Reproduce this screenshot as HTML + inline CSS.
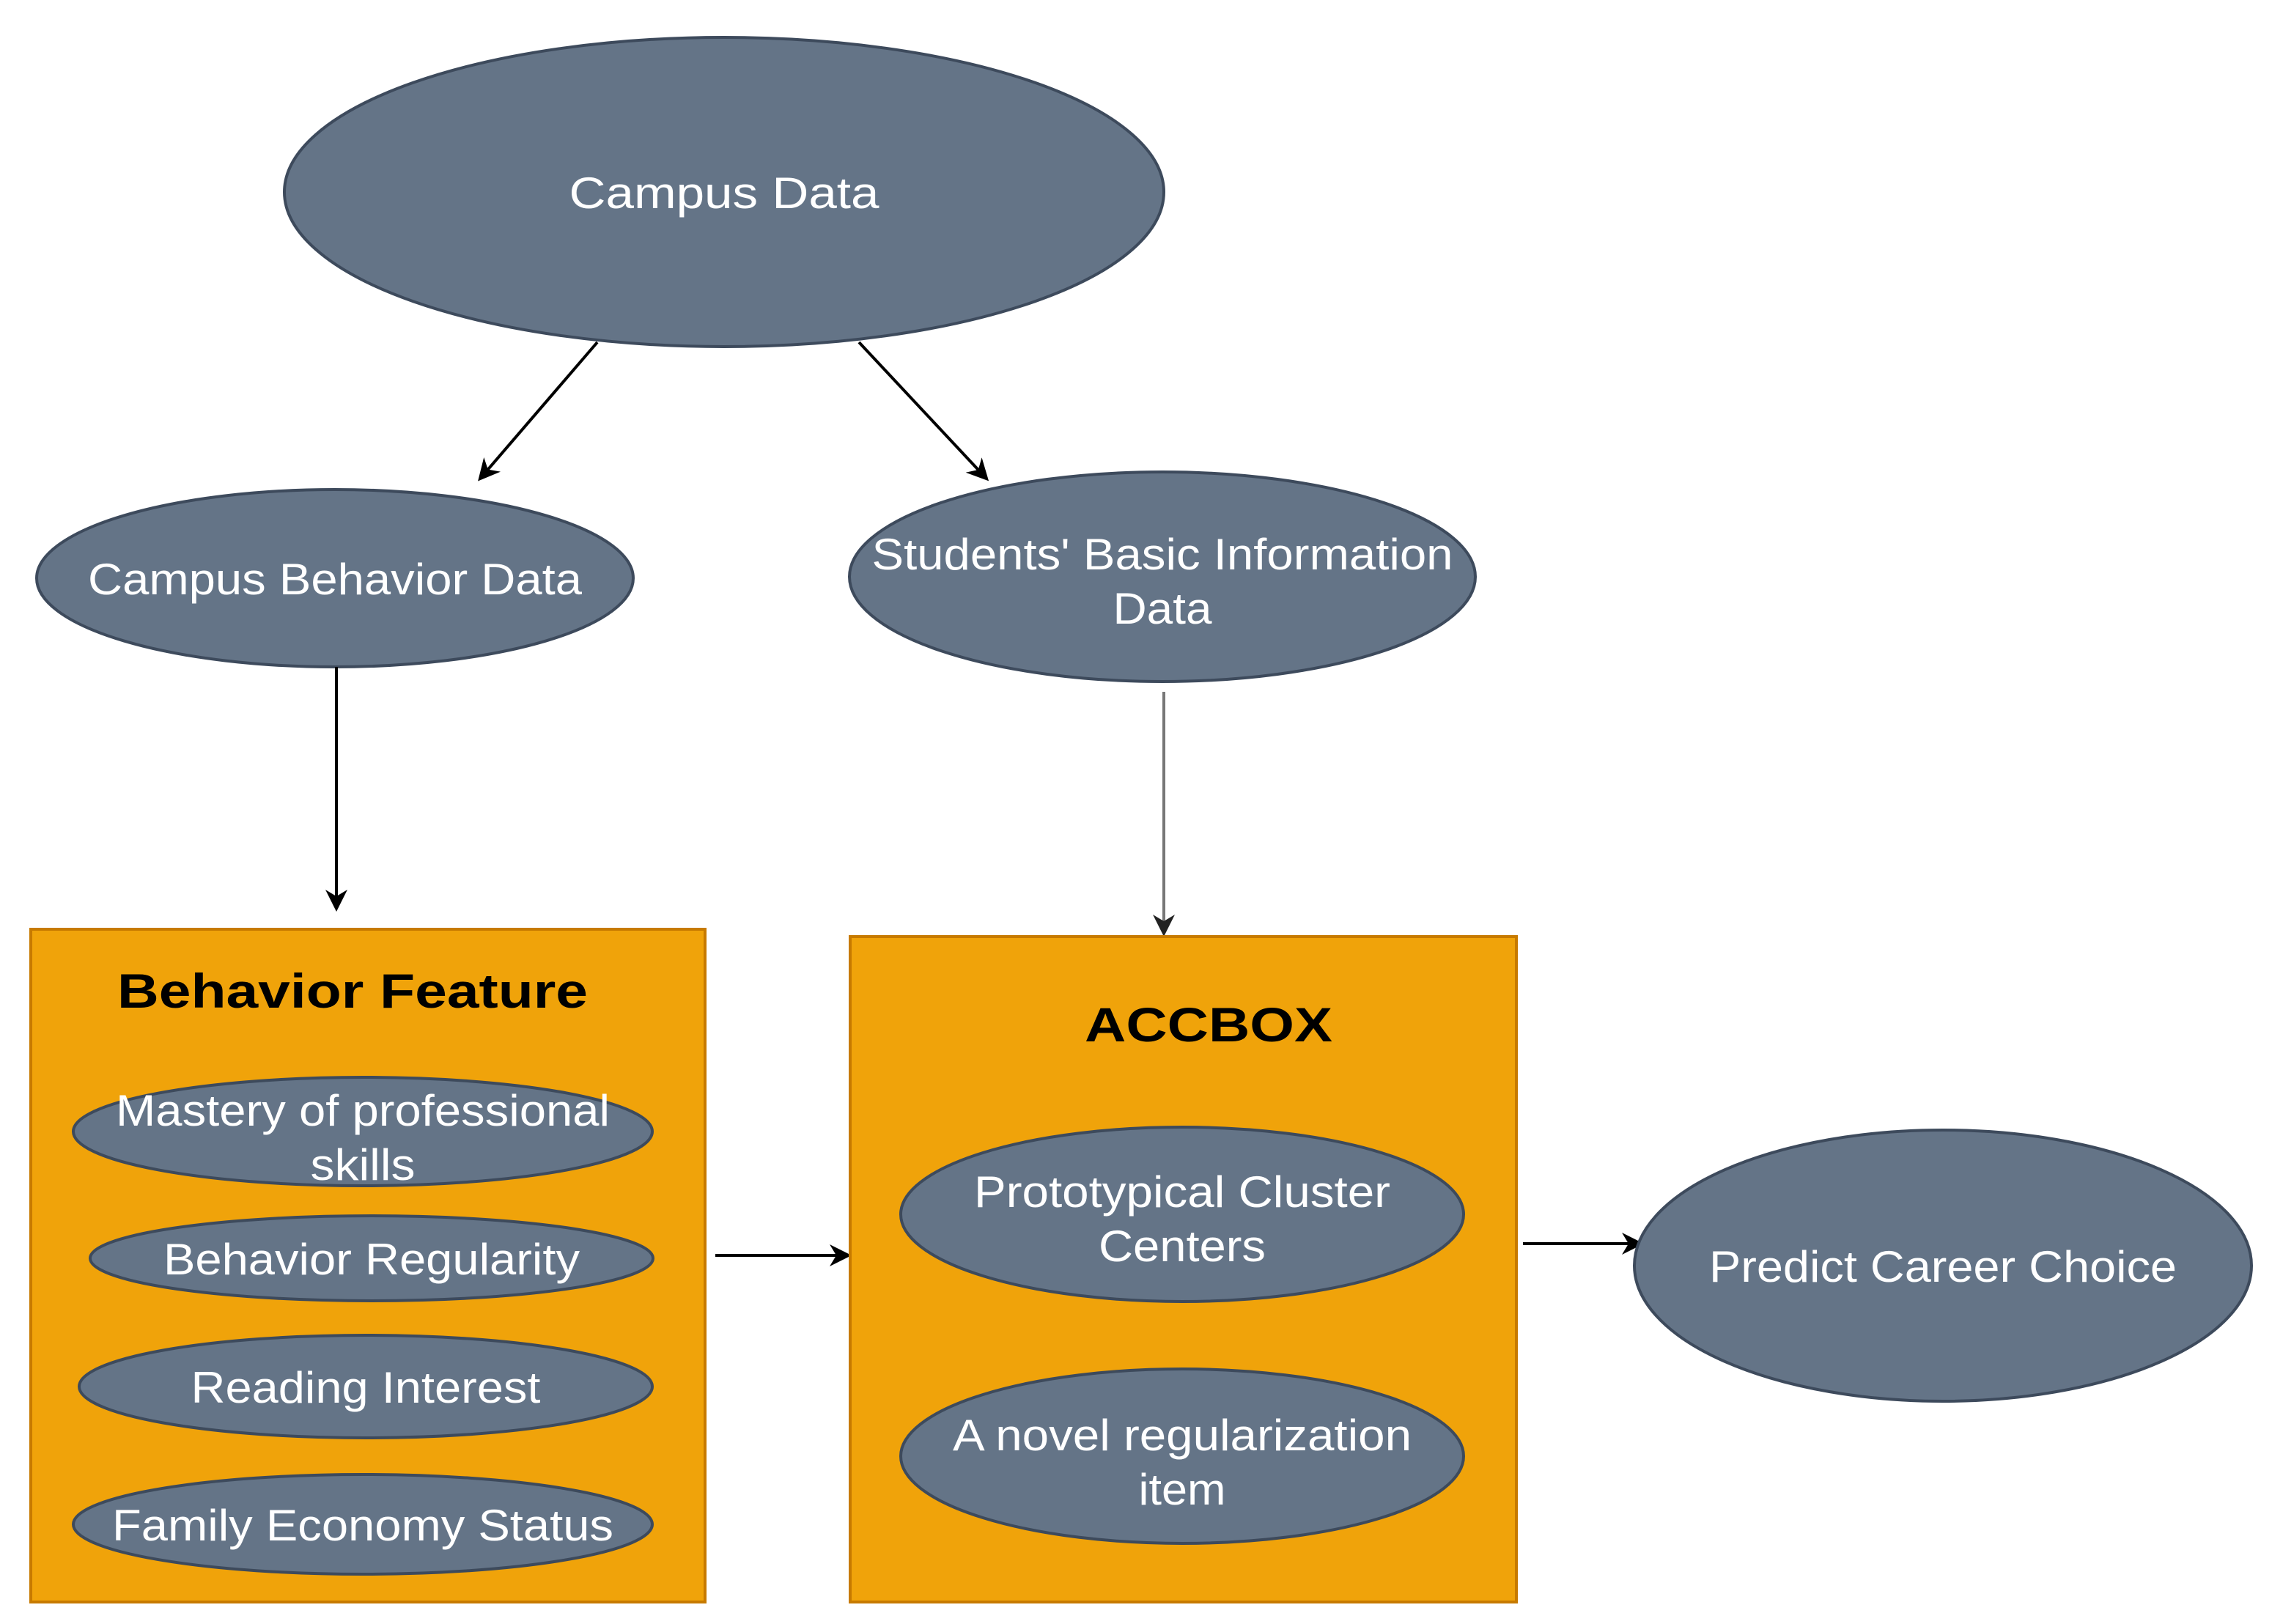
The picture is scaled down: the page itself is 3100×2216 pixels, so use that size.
<!DOCTYPE html>
<html><head><meta charset="utf-8"><style>html,body{margin:0;padding:0;background:#fff}svg{display:block}</style></head>
<body>
<svg width="3100" height="2216" viewBox="0 0 3100 2216" xmlns="http://www.w3.org/2000/svg" font-family="Liberation Sans, Arial, sans-serif">
<defs>
<marker id="ah" viewBox="0 0 10 10" refX="9" refY="5" markerWidth="8" markerHeight="8" markerUnits="userSpaceOnUse" orient="auto">
</marker>
<marker id="a" viewBox="0 0 10 10" refX="8" refY="5" markerWidth="30" markerHeight="30" markerUnits="userSpaceOnUse" orient="auto"><path d="M0,0 L10,5 L0,10 L3,5 z" fill="#000"/></marker>
<marker id="ag" viewBox="0 0 10 10" refX="8" refY="5" markerWidth="30" markerHeight="30" markerUnits="userSpaceOnUse" orient="auto"><path d="M0,0 L10,5 L0,10 L3,5 z" fill="#222"/></marker>
</defs>
<g fill="#647487" stroke="#3d4a5c" stroke-width="4">
<ellipse cx="988" cy="262" rx="600" ry="211"/>
<ellipse cx="457" cy="789" rx="407" ry="121"/>
<ellipse cx="1586" cy="787" rx="427" ry="143"/>
</g>
<g stroke="#000" stroke-width="4" fill="none">
<line x1="815" y1="467" x2="656" y2="652" marker-end="url(#a)"/>
<line x1="1172" y1="467" x2="1345" y2="652" marker-end="url(#a)"/>
<line x1="459" y1="910" x2="459" y2="1238" marker-end="url(#a)"/>
<line x1="1588" y1="944" x2="1588" y2="1272" stroke="#777" marker-end="url(#ag)"/>
<line x1="976" y1="1713" x2="1156" y2="1713" marker-end="url(#a)"/>
<line x1="2078" y1="1697" x2="2237" y2="1697" marker-end="url(#a)"/>
</g>
<rect x="42" y="1268" width="920" height="918" fill="#f0a30a" stroke="#c77a00" stroke-width="4"/>
<rect x="1160" y="1278" width="909" height="908" fill="#f0a30a" stroke="#c77a00" stroke-width="4"/>
<g fill="#647487" stroke="#3d4a5c" stroke-width="4">
<ellipse cx="495" cy="1544" rx="395" ry="74"/>
<ellipse cx="507" cy="1717" rx="384" ry="58"/>
<ellipse cx="499" cy="1892" rx="391" ry="70"/>
<ellipse cx="495" cy="2080" rx="395" ry="68"/>
<ellipse cx="1613" cy="1657" rx="384" ry="119"/>
<ellipse cx="1613" cy="1987" rx="384" ry="119"/>
<ellipse cx="2651" cy="1727" rx="421" ry="185"/>
</g>
<g fill="#fff" font-size="60" text-anchor="middle" lengthAdjust="spacingAndGlyphs">
<text x="988" y="284" textLength="423" lengthAdjust="spacingAndGlyphs">Campus Data</text>
<text x="457" y="811" textLength="674" lengthAdjust="spacingAndGlyphs">Campus Behavior Data</text>
<text x="1586" y="777" textLength="793" lengthAdjust="spacingAndGlyphs">Students' Basic Information</text>
<text x="1586" y="851" textLength="135" lengthAdjust="spacingAndGlyphs">Data</text>
<text x="495" y="1536" textLength="674" lengthAdjust="spacingAndGlyphs">Mastery of professional</text>
<text x="495" y="1610" textLength="143" lengthAdjust="spacingAndGlyphs">skills</text>
<text x="507" y="1739" textLength="568" lengthAdjust="spacingAndGlyphs">Behavior Regularity</text>
<text x="499" y="1914" textLength="477" lengthAdjust="spacingAndGlyphs">Reading Interest</text>
<text x="495" y="2102" textLength="684" lengthAdjust="spacingAndGlyphs">Family Economy Status</text>
<text x="1613" y="1647" textLength="568" lengthAdjust="spacingAndGlyphs">Prototypical Cluster</text>
<text x="1613" y="1721" textLength="228" lengthAdjust="spacingAndGlyphs">Centers</text>
<text x="1613" y="1979" textLength="626" lengthAdjust="spacingAndGlyphs">A novel regularization</text>
<text x="1613" y="2053" textLength="119" lengthAdjust="spacingAndGlyphs">item</text>
<text x="2651" y="1749" textLength="638" lengthAdjust="spacingAndGlyphs">Predict Career Choice</text>
</g>
<g fill="#000" font-size="66" font-weight="bold" text-anchor="middle">
<text x="481" y="1375" textLength="642" lengthAdjust="spacingAndGlyphs">Behavior Feature</text>
<text x="1649" y="1421" textLength="338" lengthAdjust="spacingAndGlyphs">ACCBOX</text>
</g>
</svg>
</body></html>
